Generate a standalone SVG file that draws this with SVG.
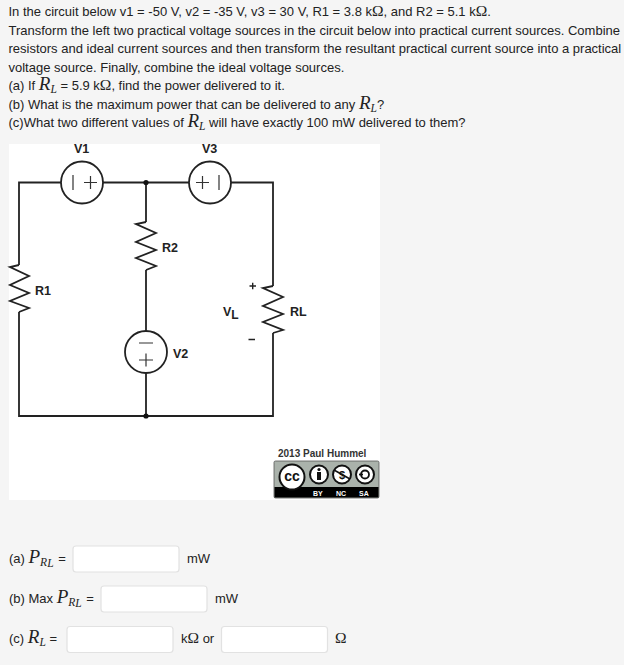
<svg xmlns="http://www.w3.org/2000/svg" width="624" height="665" viewBox="0 0 624 665">
<style>
.t{font-family:"Liberation Sans",Arial,sans-serif;font-size:13px;fill:#222}
.m{font-family:"Liberation Serif","Times New Roman",serif;font-style:italic;font-size:19px;fill:#222}
.s{font-family:"Liberation Serif","Times New Roman",serif;font-style:italic;font-size:11.500px;fill:#222}
.o{font-family:"Liberation Serif","Times New Roman",serif;font-size:15.500px;fill:#222}
.l{font-family:"Liberation Sans",Arial,sans-serif;font-size:12.500px;font-weight:bold;fill:#222}
.w{fill:none;stroke:#222;stroke-width:1.800;stroke-linejoin:miter}
.c{fill:#fff;stroke:#222;stroke-width:1.800}
.g{fill:none;stroke:#333;stroke-width:1.200}
.i{fill:#fff;stroke:#e2e2e2;stroke-width:1.200}
.b{fill:#fff;stroke:#111;stroke-width:2}
</style>
<rect width="624" height="665" fill="#f5f5f5"/>
<g id="question">
<text class="t" x="8.500" y="16">In the circuit below v1 = -50 V, v2 = -35 V, v3 = 30 V, R1 = 3.8 k<tspan class="o">Ω</tspan>, and R2 = 5.1 k<tspan class="o">Ω</tspan>.</text>
<text class="t" x="8.500" y="34.500">Transform the left two practical voltage sources in the circuit below into practical current sources. Combine</text>
<text class="t" x="8.500" y="53">resistors and ideal current sources and then transform the resultant practical current source into a practical</text>
<text class="t" x="8.500" y="71.500">voltage source. Finally, combine the ideal voltage sources.</text>
<text class="t" x="8.500" y="90">(a) If <tspan class="m">R</tspan><tspan class="s" dy="3">L</tspan><tspan dy="-3"> = 5.9 k</tspan><tspan class="o">Ω</tspan>, find the power delivered to it.</text>
<text class="t" x="8.500" y="108.500">(b) What is the maximum power that can be delivered to any <tspan class="m">R</tspan><tspan class="s" dy="3">L</tspan><tspan dy="-3">?</tspan></text>
<text class="t" x="8.500" y="127">(c)What two different values of <tspan class="m">R</tspan><tspan class="s" dy="3">L</tspan><tspan dy="-3"> will have exactly 100 mW delivered to them?</tspan></text>
</g>
<rect id="circuit-background" x="9" y="144" width="371" height="356" fill="#fff"/>
<g id="connectors">
<path class="w" d="M61 182.500H19V265M19 312V416H273V333M273 286V182.500H231M103 182.500H189M146 182.500V222M146 270V331M146 373V416"/>
</g>
<g id="R1"><path class="w" d="M19 265L10 267L29 276L10 285L29 293L10 301L29 308L19 312"/><text class="l" x="35" y="295">R1</text></g>
<g id="R2"><path class="w" d="M146 222L136 224L156 233L136 242L156 250L136 258L156 266L146 270"/><text class="l" x="162" y="252">R2</text></g>
<g id="RL"><path class="w" d="M273 286L263 288L283 297L263 306L283 314L263 322L283 330L273 333"/><text class="l" x="290" y="316">RL</text></g>
<g id="V1"><circle class="c" cx="82" cy="182.500" r="21"/><path class="g" d="M73 175V190M84 182.500H97M90.500 176V189"/><text class="l" x="74" y="153">V1</text></g>
<g id="V3"><circle class="c" cx="210" cy="182.500" r="21"/><path class="g" d="M219 175V190M196 182.500H209M202.500 176V189"/><text class="l" x="202" y="153">V3</text></g>
<g id="V2"><circle class="c" cx="146" cy="352" r="21"/><path class="g" d="M139 343H153M139 360H153M146 353.500V366.500"/><text class="l" x="173" y="358">V2</text></g>
<g id="junction-top"><circle cx="146" cy="182.500" r="2.600" fill="#111"/></g>
<g id="junction-bottom"><circle cx="146" cy="416" r="2.600" fill="#111"/></g>
<g id="VL">
<text class="l" x="223" y="316">V<tspan font-size="12" dy="3">L</tspan></text>
<path fill="none" stroke="#222" stroke-width="1.400" d="M249.500 286H256M252.700 282.800V289.200M248.500 339.500H255"/>
</g>
<g id="credit">
<text x="278" y="456.500" font-family="'Liberation Sans',Arial,sans-serif" font-size="10" font-weight="bold" fill="#333">2013 Paul Hummel</text>
<rect x="274" y="461" width="105" height="37" rx="1.500" fill="#aab2ab" stroke="#555" stroke-width="0.800"/>
<rect x="274.500" y="487" width="104" height="10.500" fill="#000"/>
<circle class="b" cx="292" cy="477" r="12.500" stroke-width="2.800"/>
<text x="292" y="481" text-anchor="middle" font-family="'Liberation Sans',Arial,sans-serif" font-size="14" font-weight="bold" fill="#111">cc</text>
<circle class="b" cx="319" cy="474.500" r="9"/>
<circle cx="319" cy="469.500" r="1.600" fill="#111"/>
<rect x="317" y="472" width="4" height="8" fill="#111"/>
<circle class="b" cx="342" cy="474.500" r="9"/>
<path d="M334 470L350 479" stroke="#111" stroke-width="1.500"/>
<text x="342" y="478.500" text-anchor="middle" font-family="'Liberation Sans',Arial,sans-serif" font-size="11" font-weight="bold" fill="#111">$</text>
<circle class="b" cx="365" cy="474.500" r="9"/>
<circle cx="365" cy="474.500" r="4" fill="none" stroke="#111" stroke-width="1.800"/>
<path d="M359 474.500H363" stroke="#111" stroke-width="1.800"/>
<g font-family="'Liberation Sans',Arial,sans-serif" font-size="7" font-weight="bold" fill="#fff"><text x="313" y="495.500">BY</text><text x="336" y="495.500">NC</text><text x="359" y="495.500">SA</text></g>
</g>
<g id="answer-a">
<text class="t" x="9" y="563">(a) <tspan class="m">P</tspan><tspan class="s" dy="3">R</tspan><tspan class="s" font-size="8" dy="1">L</tspan><tspan dy="-4" dx="1"> =</tspan></text>
<rect class="i" x="73" y="546" width="106" height="26" rx="3"/>
<text class="t" x="187" y="563">mW</text>
</g>
<g id="answer-b">
<text class="t" x="9" y="603">(b) Max <tspan class="m">P</tspan><tspan class="s" dy="3">R</tspan><tspan class="s" font-size="8" dy="1">L</tspan><tspan dy="-4" dx="1"> =</tspan></text>
<rect class="i" x="101" y="586" width="106" height="26" rx="3"/>
<text class="t" x="215" y="603">mW</text>
</g>
<g id="answer-c">
<text class="t" x="9" y="643">(c) <tspan class="m">R</tspan><tspan class="s" dy="3">L</tspan><tspan dy="-3"> =</tspan></text>
<rect class="i" x="67" y="626.500" width="106" height="26" rx="3"/>
<text class="t" x="181" y="643">k<tspan class="o">Ω</tspan> or</text>
<rect class="i" x="221.500" y="626.500" width="106" height="26" rx="3"/>
<text class="o" x="335" y="643" font-size="17">Ω</text>
</g>
</svg>
